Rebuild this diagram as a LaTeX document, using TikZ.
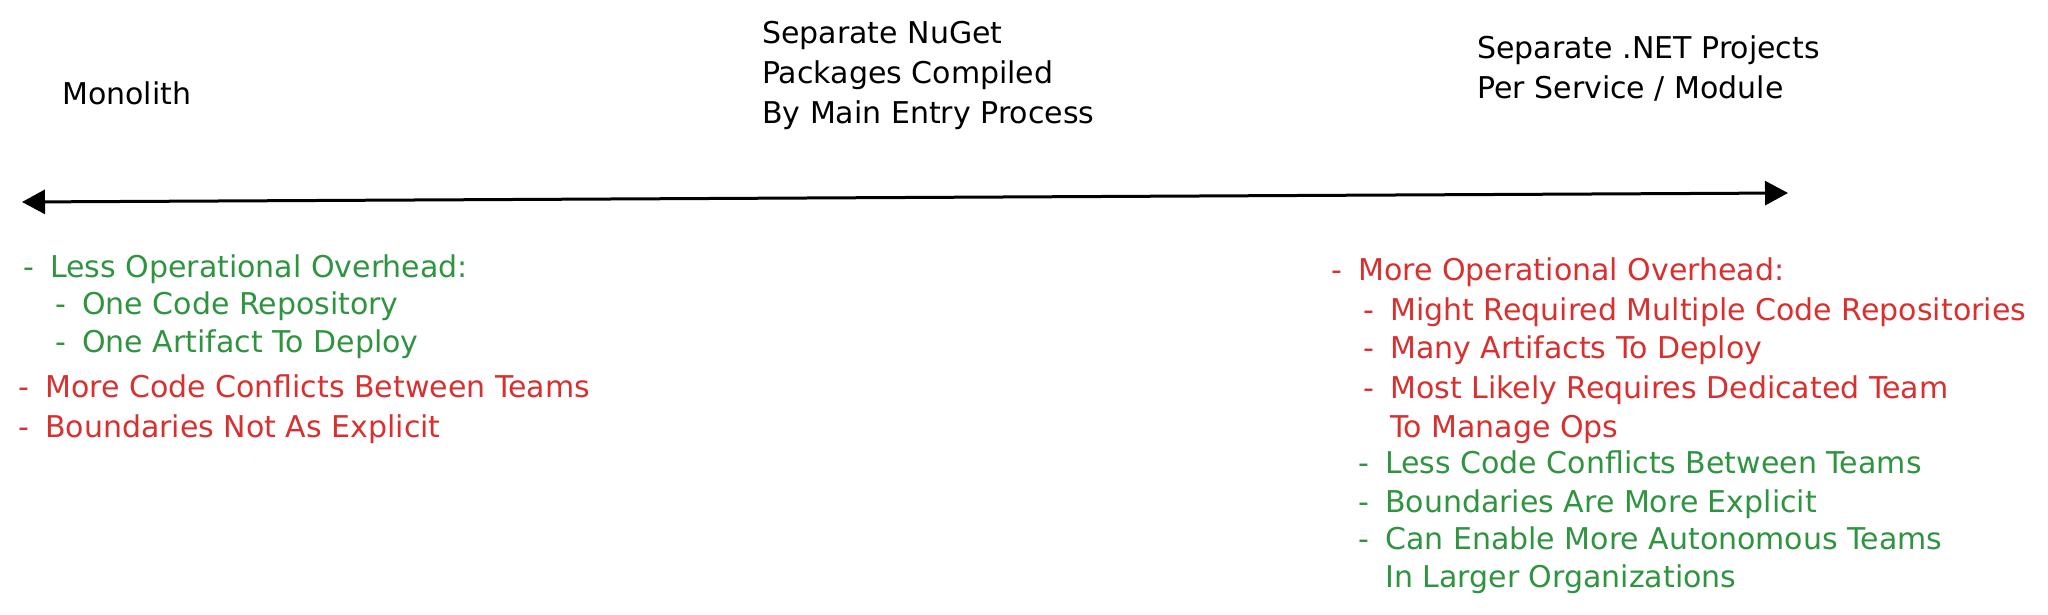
\documentclass[tikz,border=0pt]{standalone}
\usepackage{fontspec}
\setmainfont{DejaVu Sans}
\usetikzlibrary{arrows.meta}

\definecolor{gaingreen}{HTML}{2F9440}
\definecolor{lossred}{HTML}{D8302F}

\begin{document}
\begin{tikzpicture}[x=1pt, y=-1pt,
    every node/.style={inner sep=0pt, anchor=base west, font=\fontsize{30}{40}\selectfont},
    title/.style={align=left, anchor=north west},
    item/.style={execute at begin node={\llap{-\hspace{16pt}}}},
    pro/.style={item, text=gaingreen},
    con/.style={item, text=lossred}]
    \useasboundingbox (0,0) rectangle (2048,615);

    % the spectrum
    \coordinate (monoend) at (22,202);
    \coordinate (splitend) at (1788,193);
    \draw[line width=3pt, {Triangle[length=23pt,width=24pt]}-{Triangle[length=23pt,width=24pt]}] (monoend) -- (splitend);

    \node (mono) at (62,105) {Monolith};
    \node[title] (nuget) at (762,21) {Separate NuGet\\Packages Compiled\\By Main Entry Process};
    \node[title] (dotnet) at (1477,36) {Separate .NET Projects\\Per Service / Module};

    % monolith side
    \node[pro] (lessops)  at (50,277) {Less Operational Overhead:};
    \node[pro] (onerepo)  at (82,314) {One Code Repository};
    \node[pro] (oneart)   at (82,352) {One Artifact To Deploy};
    \node[con] (moreconf) at (45,397) {More Code Conflicts Between Teams};
    \node[con] (lessexpl) at (45,437) {Boundaries Not As Explicit};

    % separate projects side
    \node[con] (moreops)  at (1358,280) {More Operational Overhead:};
    \node[con] (manyrepo) at (1390,320) {Might Required Multiple Code Repositories};
    \node[con] (manyart)  at (1390,358) {Many Artifacts To Deploy};
    \node[con] (opsteam)  at (1390,398) {Most Likely Requires Dedicated Team};
    \node[text=lossred] (opsteam2) at (1390,437) {To Manage Ops};
    \node[pro] (lessconf) at (1385,473) {Less Code Conflicts Between Teams};
    \node[pro] (moreexpl) at (1385,512) {Boundaries Are More Explicit};
    \node[pro] (autoteam) at (1385,549) {Can Enable More Autonomous Teams};
    \node[text=gaingreen] (autoteam2) at (1385,587) {In Larger Organizations};
\end{tikzpicture}
\end{document}
